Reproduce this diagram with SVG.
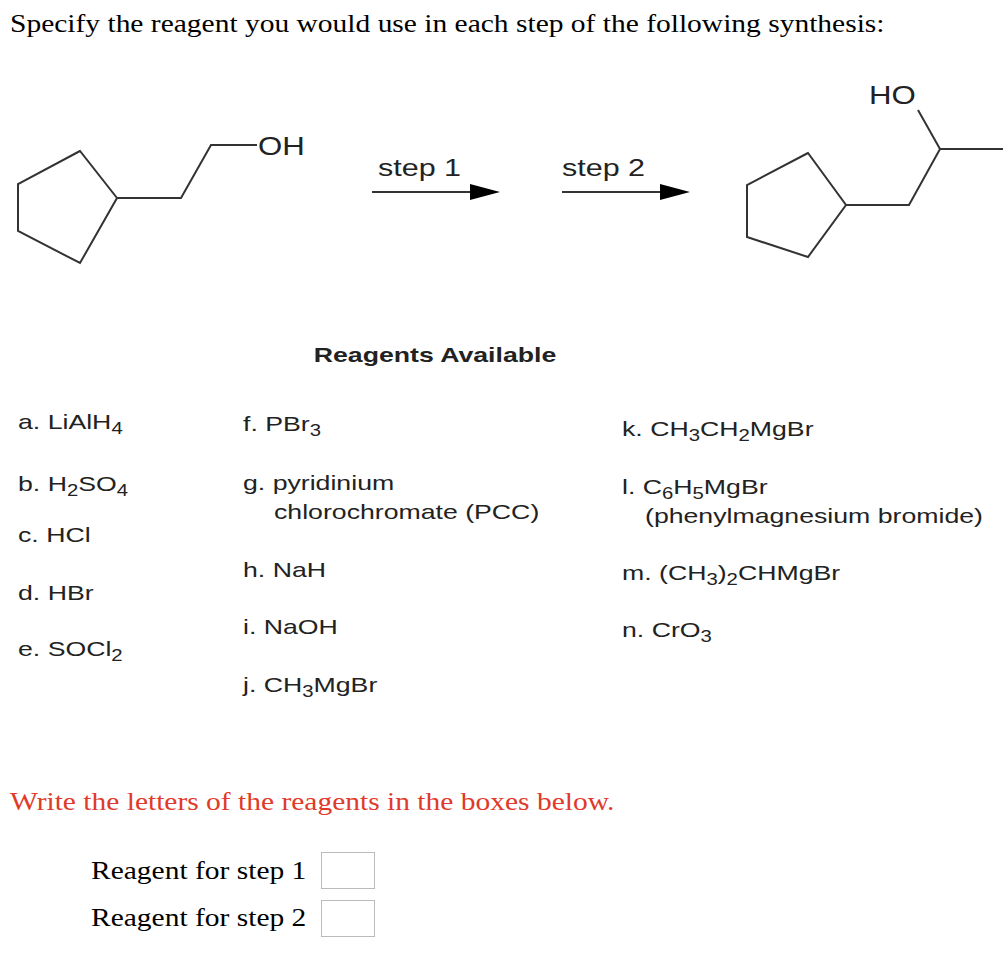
<svg xmlns="http://www.w3.org/2000/svg" width="1004" height="956" viewBox="0 0 1004 956">
<defs>
<style>
.t{font-family:"Liberation Serif","Times New Roman",serif;font-size:25px;fill:#000}
.a{font-family:"Liberation Sans",Arial,sans-serif;font-size:21px;fill:#222}
.s{font-size:16px}
.b{stroke:#333;stroke-width:2;fill:none}
.box{fill:#fff;stroke:#bbb;stroke-width:1}
</style></defs>
<rect width="1004" height="956" fill="#fff"/>
<text class="t" transform="translate(10,32) scale(1.18,1)">Specify the reagent you would use in each step of the following synthesis:</text>
<g id="reactant">
<path class="b" d="M80,151 L18,184 L18,231 L80,263 L117,198 Z M117,198 L181,198 L211,145 L257,145"/>
<text class="a" style="font-size:26px" transform="translate(258,155) scale(1.2,1)">OH</text>
</g>
<g id="product">
<path class="b" d="M808,153 L747,185 L747,237 L808,257 L846,205 Z M846,205 L909,205 L940,149 L1003,149 M940,149 L918,110"/>
<text class="a" style="font-size:26px" transform="translate(869,104) scale(1.2,1)">HO</text>
</g>
<g id="connectors">
<line class="b" x1="372" y1="192" x2="478" y2="192"/><path d="M470,184 L500,192 L470,200 Z" fill="#000"/>
<line class="b" x1="562" y1="192" x2="668" y2="192"/><path d="M660,184 L690,192 L660,200 Z" fill="#000"/>
<text class="a" style="font-size:24px" transform="translate(378,176) scale(1.27,1)">step 1</text>
<text class="a" style="font-size:24px" transform="translate(562,176) scale(1.27,1)">step 2</text>
</g>
<g id="reagents">
<text class="a" font-weight="bold" text-anchor="middle" transform="translate(435,362) scale(1.27,1)">Reagents Available</text>
<text class="a" transform="translate(18,429) scale(1.27,1)">a. LiAlH<tspan class="s" dy="5">4</tspan></text>
<text class="a" transform="translate(18,491) scale(1.27,1)">b. H<tspan class="s" dy="5">2</tspan><tspan dy="-5">SO</tspan><tspan class="s" dy="5">4</tspan></text>
<text class="a" transform="translate(18,542) scale(1.27,1)">c. HCl</text>
<text class="a" transform="translate(18,600) scale(1.27,1)">d. HBr</text>
<text class="a" transform="translate(18,656) scale(1.27,1)">e. SOCl<tspan class="s" dy="5">2</tspan></text>
<text class="a" transform="translate(243,431) scale(1.27,1)">f. PBr<tspan class="s" dy="5">3</tspan></text>
<text class="a" transform="translate(243,490) scale(1.27,1)">g. pyridinium</text>
<text class="a" transform="translate(274,519) scale(1.27,1)">chlorochromate (PCC)</text>
<text class="a" transform="translate(243,577) scale(1.27,1)">h. NaH</text>
<text class="a" transform="translate(243,634) scale(1.27,1)">i. NaOH</text>
<text class="a" transform="translate(243,692) scale(1.27,1)">j. CH<tspan class="s" dy="5">3</tspan><tspan dy="-5">MgBr</tspan></text>
<text class="a" transform="translate(622,436) scale(1.27,1)">k. CH<tspan class="s" dy="5">3</tspan><tspan dy="-5">CH</tspan><tspan class="s" dy="5">2</tspan><tspan dy="-5">MgBr</tspan></text>
<text class="a" transform="translate(622,494) scale(1.27,1)">l. C<tspan class="s" dy="5">6</tspan><tspan dy="-5">H</tspan><tspan class="s" dy="5">5</tspan><tspan dy="-5">MgBr</tspan></text>
<text class="a" transform="translate(645,523) scale(1.27,1)">(phenylmagnesium bromide)</text>
<text class="a" transform="translate(622,580) scale(1.27,1)">m. (CH<tspan class="s" dy="5">3</tspan><tspan dy="-5">)</tspan><tspan class="s" dy="5">2</tspan><tspan dy="-5">CHMgBr</tspan></text>
<text class="a" transform="translate(622,637) scale(1.27,1)">n. CrO<tspan class="s" dy="5">3</tspan></text>
</g>
<text class="t" style="fill:#e03a2a" transform="translate(10,810) scale(1.18,1)">Write the letters of the reagents in the boxes below.</text>
<text class="t" transform="translate(91,879) scale(1.18,1)">Reagent for step 1</text>
<text class="t" transform="translate(91,926) scale(1.18,1)">Reagent for step 2</text>
<rect class="box" x="321.5" y="852.5" width="53" height="36"/>
<rect class="box" x="321.5" y="900.5" width="53" height="36"/>
</svg>
